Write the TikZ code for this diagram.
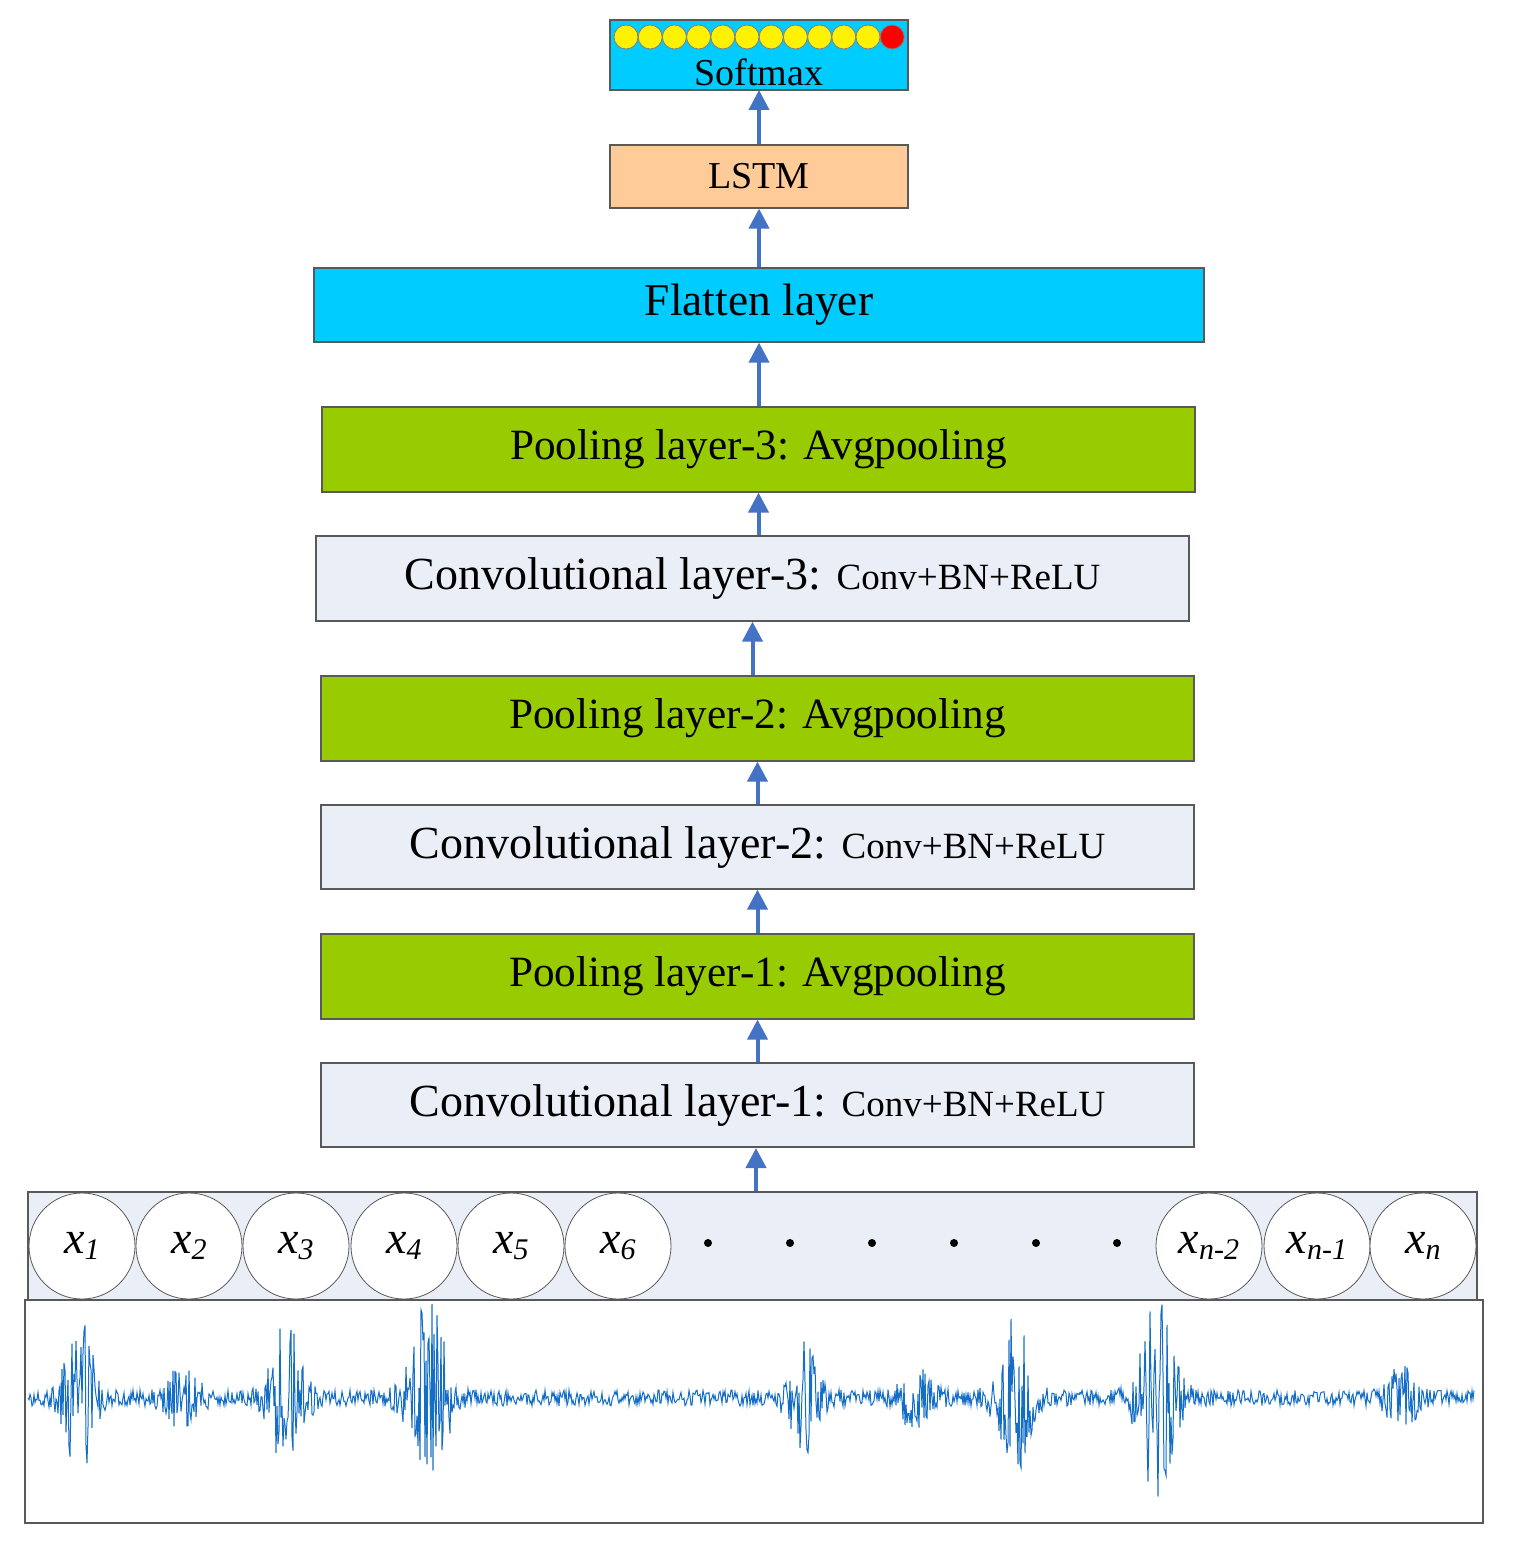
\documentclass[tikz,border=0pt]{standalone}
\usepackage{fontspec}
\setmainfont{Liberation Serif}
\usetikzlibrary{arrows.meta}
\definecolor{cy}{RGB}{0,204,255}
\definecolor{gr}{RGB}{153,204,0}
\definecolor{lt}{RGB}{234,238,247}
\definecolor{pe}{RGB}{255,204,153}
\definecolor{ar}{RGB}{68,114,196}
\definecolor{sg}{RGB}{20,110,200}
\begin{document}
\begin{tikzpicture}[x=0.5pt,y=-0.5pt,
 box/.style={draw=gray!70!black,line width=0.6pt},
 lay/.style={font=\fontsize{21.6}{23}\selectfont},
 cv/.style={font=\fontsize{23}{25}\selectfont},
 arr/.style={draw=ar,line width=2pt,-{Triangle[width=10pt,length=10pt]}},
 xc/.style={circle,draw=gray!70!black,fill=white,minimum size=53pt,inner sep=0pt,font=\fontsize{23}{25}\selectfont},
 dt/.style={circle,fill=black,inner sep=0pt,minimum size=4pt}]
\useasboundingbox (0,0) rectangle (1513,1546);
% boxes
\filldraw[box,fill=cy] (610,20) rectangle (908,90);
\node[font=\fontsize{19}{21}\selectfont] (sm) at (759,72) {Softmax};
\foreach \i in {0,...,11}{\pgfmathsetmacro\cx{626+\i*24.2}
 \ifnum\i=11 \filldraw[fill=red,draw=gray] (\cx,37) circle (6pt);\else\filldraw[fill=yellow,draw=gray] (\cx,37) circle (6pt);\fi}
\coordinate (smb) at (759,90);
\node[box,fill=pe,minimum width=149pt,minimum height=31.5pt,font=\fontsize{19}{21}\selectfont] (lstm) at (759,176.5) {LSTM};
\node[box,fill=cy,minimum width=445pt,minimum height=37pt,font=\fontsize{22.7}{24}\selectfont] (fl) at (759,305) {Flatten layer};
\node[box,fill=gr,minimum width=436.5pt,minimum height=42.5pt,lay] (p3) at (758.5,449.5) {Pooling layer-3: Avgpooling};
\node[box,fill=lt,minimum width=436.5pt,minimum height=42.5pt,cv] (c3) at (752.5,578.5) {Convolutional layer-3: {\fontsize{18.5}{20}\selectfont Conv+BN+ReLU}};
\node[box,fill=gr,minimum width=436.5pt,minimum height=42.5pt,lay] (p2) at (757.5,718.5) {Pooling layer-2: Avgpooling};
\node[box,fill=lt,minimum width=436.5pt,minimum height=42pt,cv] (c2) at (757.5,847) {Convolutional layer-2: {\fontsize{18.5}{20}\selectfont Conv+BN+ReLU}};
\node[box,fill=gr,minimum width=436.5pt,minimum height=42.5pt,lay] (p1) at (757.5,976.5) {Pooling layer-1: Avgpooling};
\node[box,fill=lt,minimum width=436.5pt,minimum height=42pt,cv] (c1) at (757.5,1105) {Convolutional layer-1: {\fontsize{18.5}{20}\selectfont Conv+BN+ReLU}};
\node[box,fill=lt,minimum width=724.5pt,minimum height=54pt] (in) at (752.5,1246) {};
% arrows
\draw[arr] (lstm.north) -- (smb);
\draw[arr] (fl.north) -- (lstm.south);
\draw[arr] (p3.north-|fl.north) -- (fl.south);
\draw[arr] (c3.north-|p3.south) -- (p3.south);
\draw[arr] (p2.north-|c3.south) -- (c3.south);
\draw[arr] (c2.north) -- (p2.south);
\draw[arr] (p1.north) -- (c2.south);
\draw[arr] (c1.north) -- (p1.south);
\draw[arr] (in.north-|756,0) -- (756,1148);
% circles
\newcommand\xl[1]{\textit{x}\raisebox{-0.3ex}{\fontsize{15}{15}\selectfont\textit{#1}}}
\foreach \cx/\t [count=\k] in {82/1,189/2,296/3,404/4,511/5,618/6,1209/n-2,1317/n-1,1423/n}
 \node[xc] (x\k) at (\cx,1246) {\xl{\t}};
\foreach \cx [count=\k] in {708,790,872,954,1036,1117} \node[dt] (d\k) at (\cx,1243) {};
% signal
\node[draw=gray!70!black,line width=0.8pt,minimum width=729pt,minimum height=111.5pt] (sig) at (754,1411.5) {};
\pgfmathsetseed{7}
\draw[sg,line width=0.5pt] (28,1398)
 \foreach \x in {29,30,...,1474}{
  -- ({\x},{1398+(8+ 75*exp(-pow(max(min((\x-80)/16,9),-9),2)) + 25*exp(-pow(max(min((\x-182)/18,9),-9),2)) + 80*exp(-pow(max(min((\x-287)/18,9),-9),2)) + 95*exp(-pow(max(min((\x-428)/20,9),-9),2)) + 55*exp(-pow(max(min((\x-804)/16,9),-9),2)) + 28*exp(-pow(max(min((\x-915)/18,9),-9),2)) + 75*exp(-pow(max(min((\x-1014)/18,9),-9),2)) + 95*exp(-pow(max(min((\x-1157)/20,9),-9),2)) + 28*exp(-pow(max(min((\x-1402)/16,9),-9),2)))*rand})
 };
\end{tikzpicture}
\end{document}
